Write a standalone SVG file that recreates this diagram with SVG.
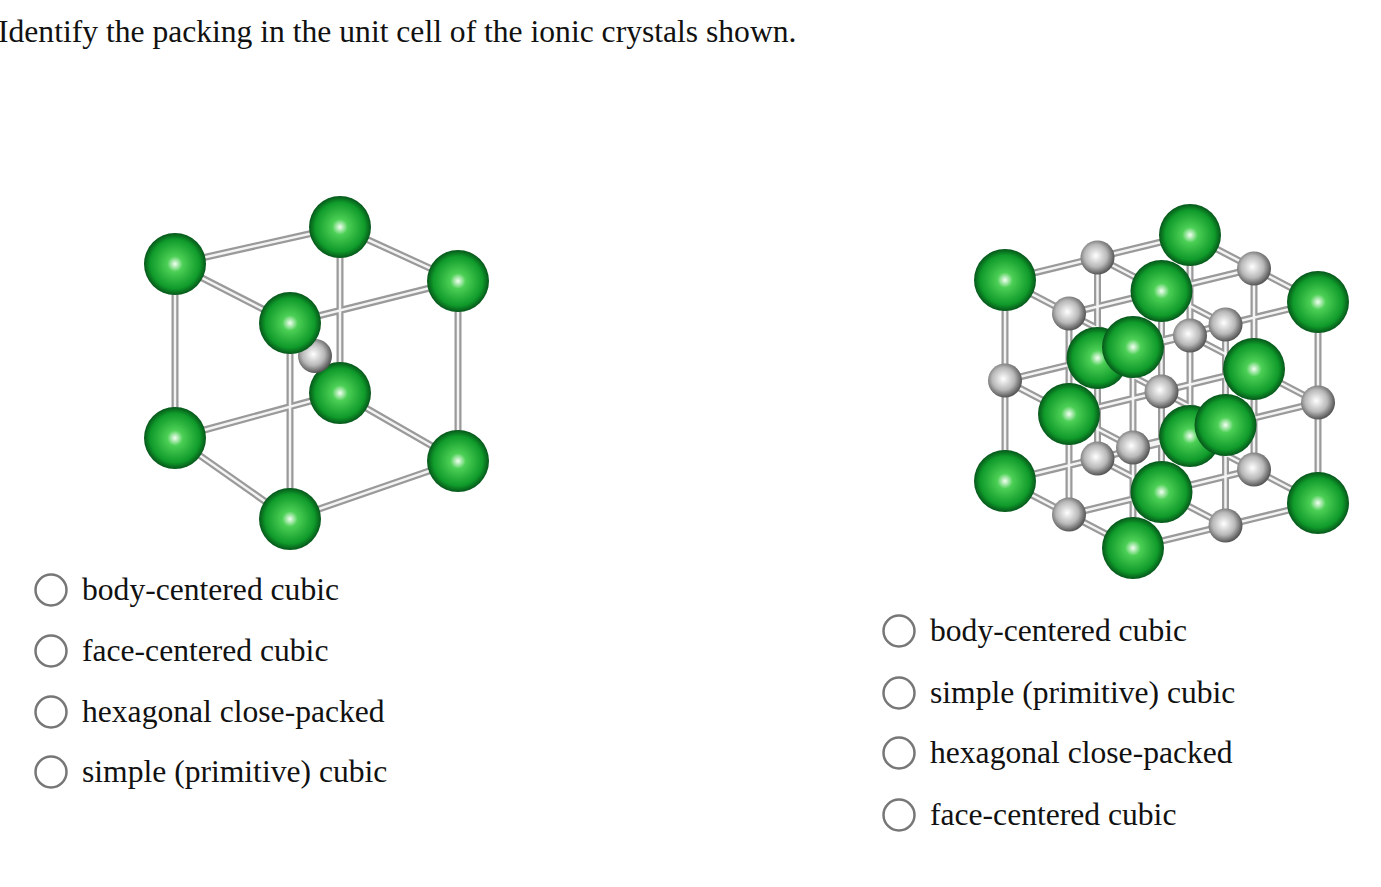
<svg xmlns="http://www.w3.org/2000/svg" xmlns:xlink="http://www.w3.org/1999/xlink" width="1381" height="887" viewBox="0 0 1381 887">
<style>
text{font-family:"Liberation Serif",serif;font-size:31.6px;fill:#111}
.b{stroke:#9a9a9a;stroke-width:7;fill:none;stroke-linecap:round}
.bi{stroke:#f4f4f4;stroke-width:2.5;fill:none}
.r{fill:#fff;stroke:#777;stroke-width:2.5}
</style>
<defs>
<radialGradient id="gg" cx="0.5" cy="0.5" r="0.5">
<stop offset="0" stop-color="#f4fff4"/><stop offset="0.25" stop-color="#4ccf55"/><stop offset="0.8" stop-color="#0f9a2a"/><stop offset="1" stop-color="#06561a"/></radialGradient>
<radialGradient id="gy" cx="0.45" cy="0.45" r="0.55">
<stop offset="0" stop-color="#ffffff"/><stop offset="0.6" stop-color="#b8b8b8"/><stop offset="1" stop-color="#555"/></radialGradient>
<circle id="G" r="31" fill="url(#gg)"/>
<circle id="Y" r="17" fill="url(#gy)"/>
</defs>
<rect width="1381" height="887" fill="#fff"/>
<text x="-2" y="42">Identify the packing in the unit cell of the ionic crystals shown.</text>

<g id="connectors">
<g id="left-bonds">
<path class="b" d="M175,264L340,227L458,281L290,323Z M175,438L340,393L458,461L290,519Z M175,264V438 M340,227V393 M458,281V461 M290,323V519"/>
<path class="bi" d="M175,264L340,227L458,281L290,323Z M175,438L340,393L458,461L290,519Z M175,264V438 M340,227V393 M458,281V461 M290,323V519"/>
</g>
<g id="right-bonds">
<path class="b" d="M1133,548l-128,-67 M1225.5,525.5l-128,-67 M1318,503l-128,-67 M1133,447.5l-128,-67 M1225.5,425l-128,-67 M1318,402.5l-128,-67 M1133,347l-128,-67 M1225.5,324.5l-128,-67 M1318,302l-128,-67
M1133,548l185,-45 M1069,514.5l185,-45 M1005,481l185,-45 M1133,447.5l185,-45 M1069,414l185,-45 M1005,380.5l185,-45 M1133,347l185,-45 M1069,313.5l185,-45 M1005,280l185,-45
M1133,548v-201 M1069,514.5v-201 M1005,481v-201 M1225.5,525.5v-201 M1161.5,492v-201 M1097.5,458.5v-201 M1318,503v-201 M1254,469.5v-201 M1190,436v-201"/>
<path class="bi" d="M1133,548l-128,-67 M1225.5,525.5l-128,-67 M1318,503l-128,-67 M1133,447.5l-128,-67 M1225.5,425l-128,-67 M1318,402.5l-128,-67 M1133,347l-128,-67 M1225.5,324.5l-128,-67 M1318,302l-128,-67
M1133,548l185,-45 M1069,514.5l185,-45 M1005,481l185,-45 M1133,447.5l185,-45 M1069,414l185,-45 M1005,380.5l185,-45 M1133,347l185,-45 M1069,313.5l185,-45 M1005,280l185,-45
M1133,548v-201 M1069,514.5v-201 M1005,481v-201 M1225.5,525.5v-201 M1161.5,492v-201 M1097.5,458.5v-201 M1318,503v-201 M1254,469.5v-201 M1190,436v-201"/>
</g>
</g>

<g id="left-atoms">
<use href="#G" x="340" y="393"/>
<use href="#G" x="340" y="227"/>
<use href="#G" x="175" y="438"/>
<use href="#G" x="458" y="461"/>
<use href="#G" x="175" y="264"/>
<use href="#G" x="458" y="281"/>
<use href="#Y" x="315" y="356"/>
<use href="#G" x="290" y="519"/>
<use href="#G" x="290" y="323"/>
</g>

<g id="right-atoms">
<use href="#G" x="1190" y="436"/><use href="#Y" x="1190" y="335.5"/><use href="#G" x="1190" y="235"/>
<use href="#Y" x="1097.5" y="458.5"/><use href="#G" x="1097.5" y="358"/><use href="#Y" x="1097.5" y="257.5"/>
<use href="#Y" x="1254" y="469.5"/><use href="#G" x="1254" y="369"/><use href="#Y" x="1254" y="268.5"/>
<use href="#G" x="1005" y="481"/><use href="#Y" x="1005" y="380.5"/><use href="#G" x="1005" y="280"/>
<use href="#G" x="1161.5" y="492"/><use href="#Y" x="1161.5" y="391.5"/><use href="#G" x="1161.5" y="291"/>
<use href="#G" x="1318" y="503"/><use href="#Y" x="1318" y="402.5"/><use href="#G" x="1318" y="302"/>
<use href="#Y" x="1069" y="514.5"/><use href="#G" x="1069" y="414"/><use href="#Y" x="1069" y="313.5"/>
<use href="#Y" x="1225.5" y="525.5"/><use href="#G" x="1225.5" y="425"/><use href="#Y" x="1225.5" y="324.5"/>
<use href="#G" x="1133" y="548"/><use href="#Y" x="1133" y="447.5"/><use href="#G" x="1133" y="347"/>
</g>

<g id="left-options">
<circle class="r" cx="51" cy="590" r="15.5"/><text x="82" y="600">body-centered cubic</text>
<circle class="r" cx="51" cy="651" r="15.5"/><text x="82" y="661">face-centered cubic</text>
<circle class="r" cx="51" cy="712" r="15.5"/><text x="82" y="722">hexagonal close-packed</text>
<circle class="r" cx="51" cy="772" r="15.5"/><text x="82" y="782">simple (primitive) cubic</text>
</g>
<g id="right-options">
<circle class="r" cx="899" cy="631" r="15.5"/><text x="930" y="641">body-centered cubic</text>
<circle class="r" cx="899" cy="693" r="15.5"/><text x="930" y="703">simple (primitive) cubic</text>
<circle class="r" cx="899" cy="753" r="15.5"/><text x="930" y="763">hexagonal close-packed</text>
<circle class="r" cx="899" cy="815" r="15.5"/><text x="930" y="825">face-centered cubic</text>
</g>
</svg>
